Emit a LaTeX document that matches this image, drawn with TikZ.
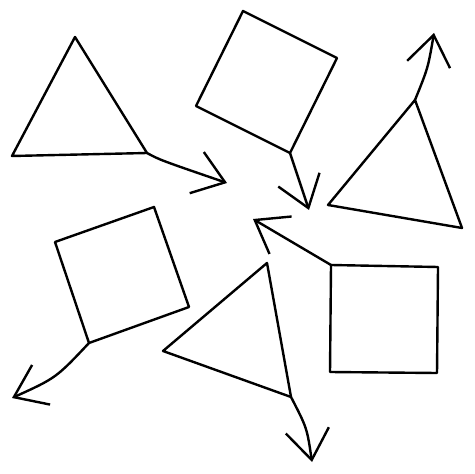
\documentclass[tikz,border=0pt]{standalone}
\usepackage{tikz}
\usetikzlibrary{arrows.meta}
\tikzset{outline/.style = {line width = 1.2pt, line join = round, line cap = round}}
\tikzset{barb/.style = {outline, -{Straight Barb[angle = 72:18.5pt]}}}

\begin{document}
\begin{tikzpicture}[x = 0.5pt, y = -0.5pt]
    \useasboundingbox (0, 0) rectangle (474, 474);

    % top left triangle
    \coordinate (ta1) at (75, 37);
    \coordinate (ta2) at (12, 156);
    \coordinate (ta3) at (147, 153);
    \coordinate (tipa) at (227, 183);
    \draw [outline] (ta1) -- (ta2) -- (ta3) -- cycle;
    \draw [barb] (ta3) .. controls (160, 160) .. (tipa);

    % top square
    \coordinate (sa1) at (243, 11);
    \coordinate (sa2) at (196, 106);
    \coordinate (sa3) at (290, 153);
    \coordinate (sa4) at (337, 58);
    \coordinate (tipb) at (309, 210);
    \draw [outline] (sa1) -- (sa2) -- (sa3) -- (sa4) -- cycle;
    \draw [barb] (sa3) -- (tipb);

    % right triangle
    \coordinate (tb1) at (415, 100);
    \coordinate (tb2) at (328, 205);
    \coordinate (tb3) at (462, 228);
    \coordinate (tipc) at (434, 33);
    \draw [outline] (tb1) -- (tb2) -- (tb3) -- cycle;
    \draw [barb] (tb1) .. controls (428, 68) .. (tipc);

    % left square
    \coordinate (sb1) at (55, 242);
    \coordinate (sb2) at (154, 207);
    \coordinate (sb3) at (189, 307);
    \coordinate (sb4) at (89, 343);
    \coordinate (tipd) at (12, 398);
    \draw [outline] (sb1) -- (sb2) -- (sb3) -- (sb4) -- cycle;
    \draw [barb] (sb4) .. controls (56, 378) .. (tipd);

    % bottom triangle
    \coordinate (tc1) at (267, 263);
    \coordinate (tc2) at (163, 351);
    \coordinate (tc3) at (291, 397);
    \coordinate (tipe) at (312, 462);
    \draw [outline] (tc1) -- (tc2) -- (tc3) -- cycle;
    \draw [barb] (tc3) .. controls (307, 428) .. (tipe);

    % bottom right square
    \coordinate (sc1) at (331, 265);
    \coordinate (sc2) at (438, 267);
    \coordinate (sc3) at (437, 373);
    \coordinate (sc4) at (330, 372);
    \coordinate (tipf) at (253, 219);
    \draw [outline] (sc1) -- (sc2) -- (sc3) -- (sc4) -- cycle;
    \draw [barb] (sc1) -- (tipf);
\end{tikzpicture}
\end{document}
